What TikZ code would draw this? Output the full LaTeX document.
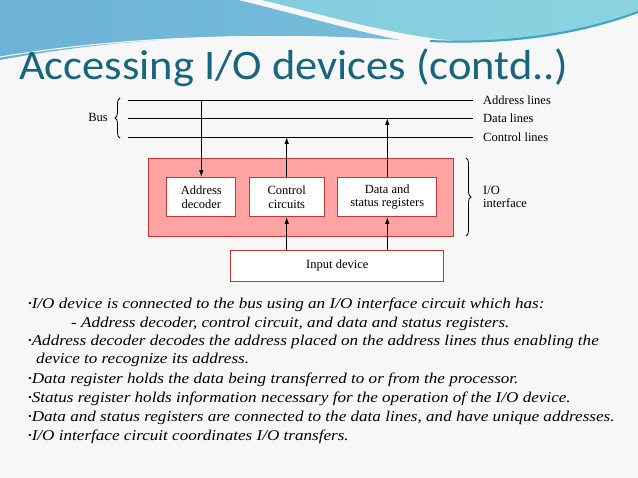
\documentclass[tikz,border=0pt]{standalone}
\usepackage{fontspec}
\setmainfont{Liberation Serif}
\newfontfamily\titlefont{Carlito}
\newfontfamily\notefont[FakeStretch=1.14]{Liberation Serif}
\usetikzlibrary{arrows.meta,
                calc,
                positioning,
                decorations.pathreplacing}

\definecolor{titleteal}{HTML}{17657E}
\definecolor{wavedark}{HTML}{6CB3D7}
\definecolor{wavelight}{HTML}{8AD3E0}
\definecolor{waveline}{HTML}{3FA3C6}
\definecolor{ifacefill}{HTML}{FFA3A3}
\definecolor{ifaceline}{HTML}{CC3535}

\newcommand{\dotmark}{\raisebox{0.3ex}{\fontsize{9}{9}\selectfont\textbullet}}

\tikzset{
  unit/.style={draw=ifaceline, thick, fill=white, align=center,
               inner sep=0pt, font=\fontsize{12.5}{13.5}\selectfont},
  busline/.style={thick},
  buslabel/.style={right, inner sep=0pt, font=\fontsize{12.5}{13.5}\selectfont},
  arr/.style={-{Latex[length=7pt,width=4.5pt]}, thick},
  bracket/.style={decorate, decoration={brace, amplitude=5pt}, thick},
  bulletline/.style={anchor=base west, inner sep=0pt,
                     font=\notefont\fontsize{15}{16}\selectfont\itshape}
}

\begin{document}
\begin{tikzpicture}[x=1pt,y=-1pt]
\useasboundingbox (0,0) rectangle (638,478);
\fill[white!97!black] (0,0) rectangle (638,478);

% slide background
\shade[left color=wavedark, right color=wavedark!70!wavelight]
  (0,0) -- (238,0) .. controls (300,15) and (350,30) .. (400,40)
  .. controls (300,33) and (150,32) .. (0,60) -- cycle;
\shade[left color=wavelight!80!wavedark, right color=wavelight]
  (262,0) -- (638,0) -- (638,12) .. controls (590,32) and (530,42) .. (470,42)
  .. controls (400,38) and (320,14) .. (262,0) -- cycle;
\draw[waveline, line width=2pt]
  (430,41) .. controls (520,45) and (590,30) .. (638,12);
\draw[white, line width=1pt] (0,57) .. controls (150,32) and (300,34) .. (420,42);

% title
\node[anchor=base west, inner sep=0pt, text=titleteal, xscale=1.06,
      font=\titlefont\fontsize{42}{42}\selectfont] (title) at (19,80)
  {Accessing I/O devices (contd..)};

% bus
\coordinate (al) at (128,100);
\coordinate (dl) at (128,118);
\coordinate (cl) at (128,137);
\coordinate (ar) at (473,100);
\coordinate (dr) at (473,118);
\coordinate (cr) at (473,137);
\draw[busline] (al) -- (ar);
\draw[busline] (dl) -- (dr);
\draw[busline] (cl) -- (cr);
\node[buslabel] (alab) at ($(ar)+(10,0)$) {Address lines};
\node[buslabel] (dlab) at ($(dr)+(10,0)$) {Data lines};
\node[buslabel] (clab) at ($(cr)+(10,0)$) {Control lines};
\draw[bracket] (120,138) -- (120,98);
\node[left, inner sep=0pt, font=\fontsize{12.5}{13.5}\selectfont] (bus) at (108,117) {Bus};

% interface
\node[draw=ifaceline, thick, fill=ifacefill, minimum width=305pt,
      minimum height=78pt] (iface) at (300.8,197.2) {};
\node[unit, minimum width=69pt, minimum height=39pt] (dec) at (201.3,197) {Address\\decoder};
\node[unit, minimum width=75pt, minimum height=39pt] (ctl) at (286.7,197) {Control\\circuits};
\node[unit, minimum width=99pt, minimum height=39pt] (dat) at (387.3,197) {Data and\\status registers};
\draw[bracket] (466,158) -- (466,236);
\node[right, align=left, inner sep=0pt, font=\fontsize{12.5}{13.5}\selectfont] (ilab) at (483,197) {I/O\\interface};

\node[unit, minimum width=213pt, minimum height=31pt] (inp) at (337.3,265.5) {Input device};

% connections
\draw[arr] (dec.north |- al) -- (dec.north);
\draw[arr, {Latex[length=7pt,width=4.5pt]}-] (ctl.north |- cl) -- (ctl.north);
\draw[arr, {Latex[length=7pt,width=4.5pt]}-] (dat.north |- dl) -- (dat.north);
\draw[arr] (inp.north -| ctl) -- (ctl.south);
\draw[arr] (inp.north -| dat) -- (dat.south);

% notes
\foreach \y/\t in {309/{I/O device is connected to the bus using an I/O interface circuit which has:},
                   346/{Address decoder decodes the address placed on the address lines thus enabling the},
                   384/{Data register holds the data being transferred to or from the processor.},
                   403/{Status register holds information necessary for the operation of the I/O device.},
                   422/{Data and status registers are connected to the data lines, and have unique addresses.},
                   441/{I/O interface circuit coordinates I/O transfers.}}
  \node[bulletline] (note\y) at (28,\y) {\dotmark\t};
\node[bulletline] (note328) at (71,328) {- Address decoder, control circuit, and data and status registers.};
\node[bulletline] (note364) at (36,364) {device to recognize its address.};
\end{tikzpicture}
\end{document}
